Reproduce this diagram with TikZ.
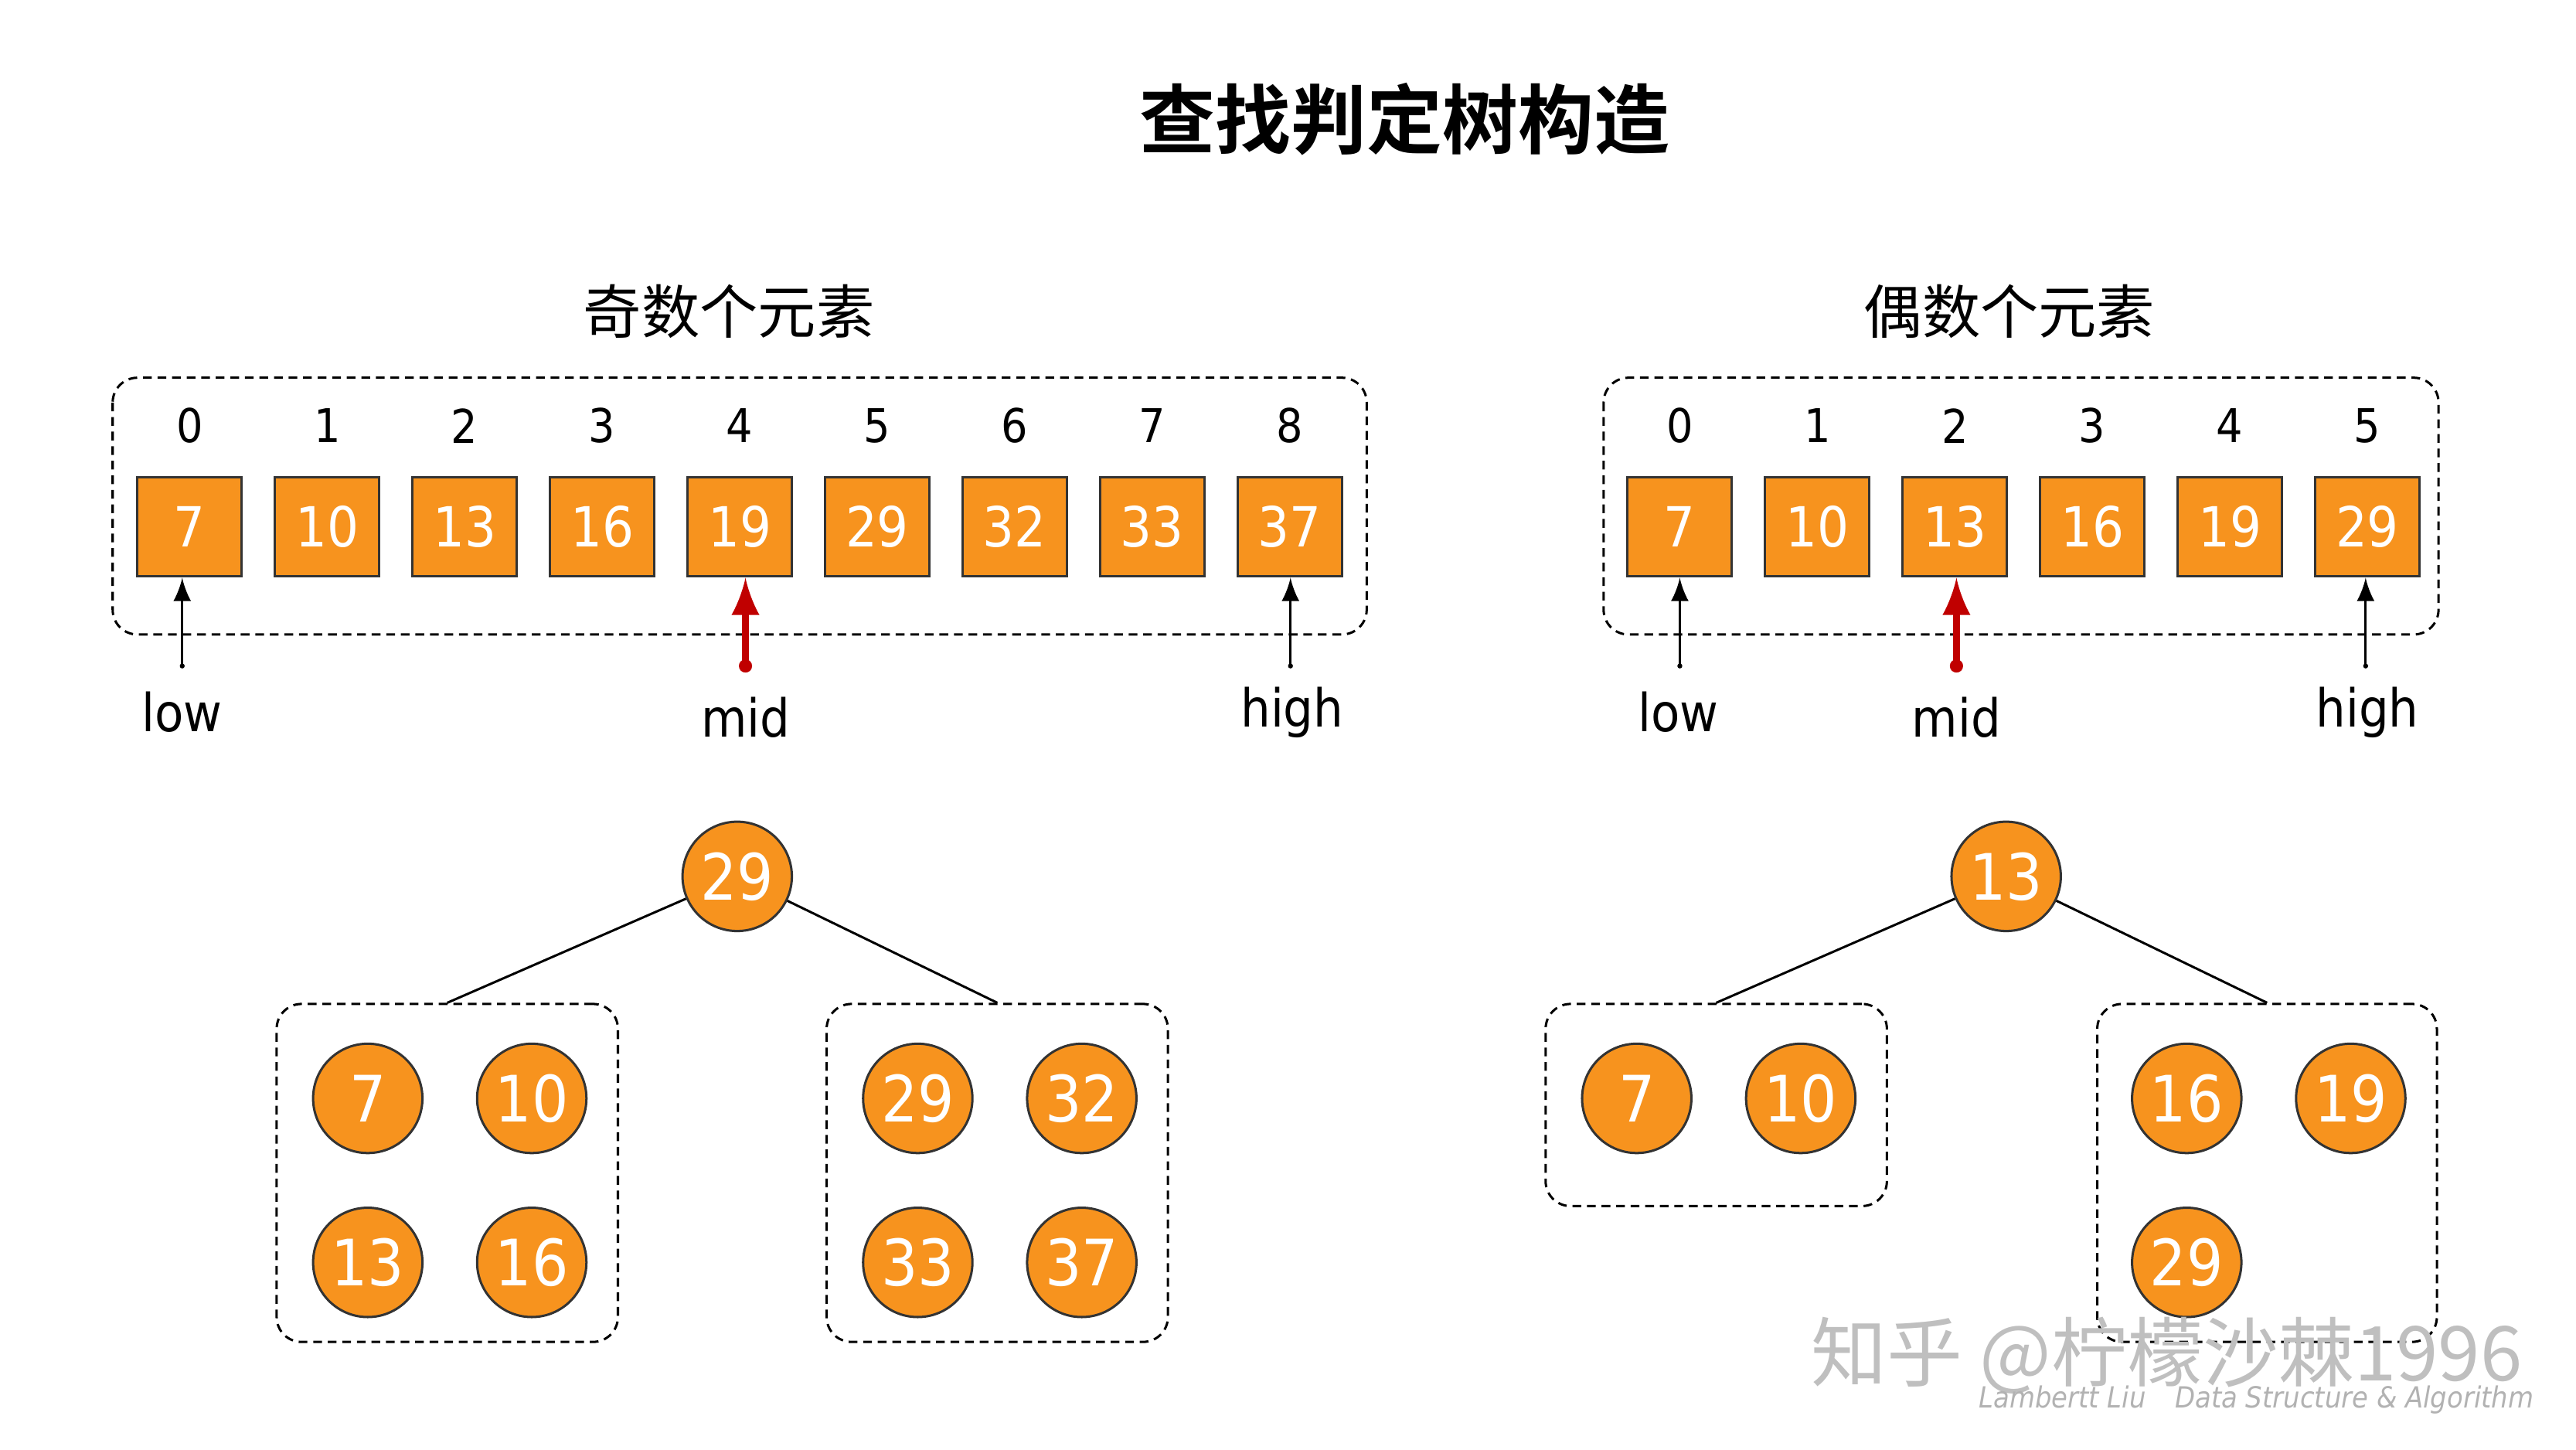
\documentclass[tikz,border=0pt]{standalone}
\usepackage{fontspec}
\setmainfont{DejaVu Sans Condensed}
\newfontfamily\cjk{Noto Sans CJK SC}
\newfontfamily\cjkb{Noto Sans CJK SC Bold}
\definecolor{org}{HTML}{F7931E}
\definecolor{mred}{HTML}{C00000}
\begin{document}
\begin{tikzpicture}[x=0.1mm,y=-0.1mm,
  cell/.style={draw=black!80,fill=org,minimum width=6.3mm,minimum height=6mm,inner sep=0,text=white,font=\fontsize{9.5}{9.5}\selectfont},
  idx/.style={font=\fontsize{8}{8}\selectfont},
  tnode/.style={circle,draw=black!80,fill=org,minimum size=6.6mm,inner sep=0,text=white,font=\fontsize{11}{11}\selectfont},
  grp/.style={draw,dash pattern=on 1.5pt off 1pt,rounded corners=1.5mm},
  ptr/.style={-latex,thin},
  mptr/.style={-latex,very thick,draw=mred},
  lbl/.style={font=\fontsize{9}{9}\selectfont}]
\path[use as bounding box] (0,0) rectangle (1555,875);
\node[font=\cjkb\fontsize{13}{13}\selectfont] (title) at (848,72) {查找判定树构造};
\node[font=\cjk\fontsize{10}{10}\selectfont] (s1) at (440,188) {奇数个元素};
\node[font=\cjk\fontsize{10}{10}\selectfont] (s2) at (1213,188) {偶数个元素};
% left array
\draw[grp] (68,228) rectangle (825,383);
\foreach \v [count=\i from 0] in {7,10,13,16,19,29,32,33,37}{
  \node[cell] (a\i) at (114.5+83*\i,318) {\v};
  \node[idx] (ai\i) at (114.5+83*\i,257) {\i};
}
\coordinate (la) at (110,402); \coordinate (ma) at (450,402); \coordinate (ha) at (779,402);
\fill (la) circle (1.5); \fill[mred] (ma) circle (4); \fill (ha) circle (1.5);
\draw[ptr] (la) -- (la|-a0.south);
\draw[mptr] (ma) -- (ma|-a4.south);
\draw[ptr] (ha) -- (ha|-a8.south);
\node[lbl] (lowa) at (110,430) {low};
\node[lbl] (mida) at (450,433) {mid};
\node[lbl] (higha) at (780,430) {high};
% right array
\draw[grp] (968,228) rectangle (1472,383);
\foreach \v [count=\i from 0] in {7,10,13,16,19,29}{
  \node[cell] (b\i) at (1014+83*\i,318) {\v};
  \node[idx] (bi\i) at (1014+83*\i,257) {\i};
}
\coordinate (lb) at (1014,402); \coordinate (mb) at (1181,402); \coordinate (hb) at (1428,402);
\fill (lb) circle (1.5); \fill[mred] (mb) circle (4); \fill (hb) circle (1.5);
\draw[ptr] (lb) -- (lb|-b0.south);
\draw[mptr] (mb) -- (mb|-b2.south);
\draw[ptr] (hb) -- (hb|-b5.south);
\node[lbl] (lowb) at (1013,430) {low};
\node[lbl] (midb) at (1181,433) {mid};
\node[lbl] (highb) at (1429,430) {high};
% left tree
\node[grp,minimum width=20.6mm,minimum height=20.4mm] (g1) at (270,708) {};
\node[grp,minimum width=20.6mm,minimum height=20.4mm] (g2) at (602,708) {};
\node[tnode] (r1) at (445,529) {29};
\draw (r1) -- (g1.north); \draw (r1) -- (g2.north);
\node[tnode] at (222,663) {7}; \node[tnode] at (321,663) {10};
\node[tnode] at (222,762) {13}; \node[tnode] at (321,762) {16};
\node[tnode] at (554,663) {29}; \node[tnode] at (653,663) {32};
\node[tnode] at (554,762) {33}; \node[tnode] at (653,762) {37};
% right tree
\node[grp,minimum width=20.6mm,minimum height=12.2mm] (g3) at (1036,667) {};
\node[grp,minimum width=20.5mm,minimum height=20.4mm] (g4) at (1368.5,708) {};
\node[tnode] (r2) at (1211,529) {13};
\draw (r2) -- (g3.north); \draw (r2) -- (g4.north);
\node[tnode] at (988,663) {7}; \node[tnode] at (1087,663) {10};
\node[tnode] at (1320,663) {16}; \node[tnode] at (1419,663) {19};
\node[tnode] at (1320,762) {29};
% watermark
\node[text=black!25,font=\cjk\fontsize{13}{13}\selectfont] (wm) at (1308,818) {知乎 @柠檬沙棘1996};
\node[text=black!30,font=\itshape\fontsize{5}{5}\selectfont] (wm2) at (1362,845) {Lambertt Liu\quad Data Structure \& Algorithm};
\end{tikzpicture}
\end{document}
